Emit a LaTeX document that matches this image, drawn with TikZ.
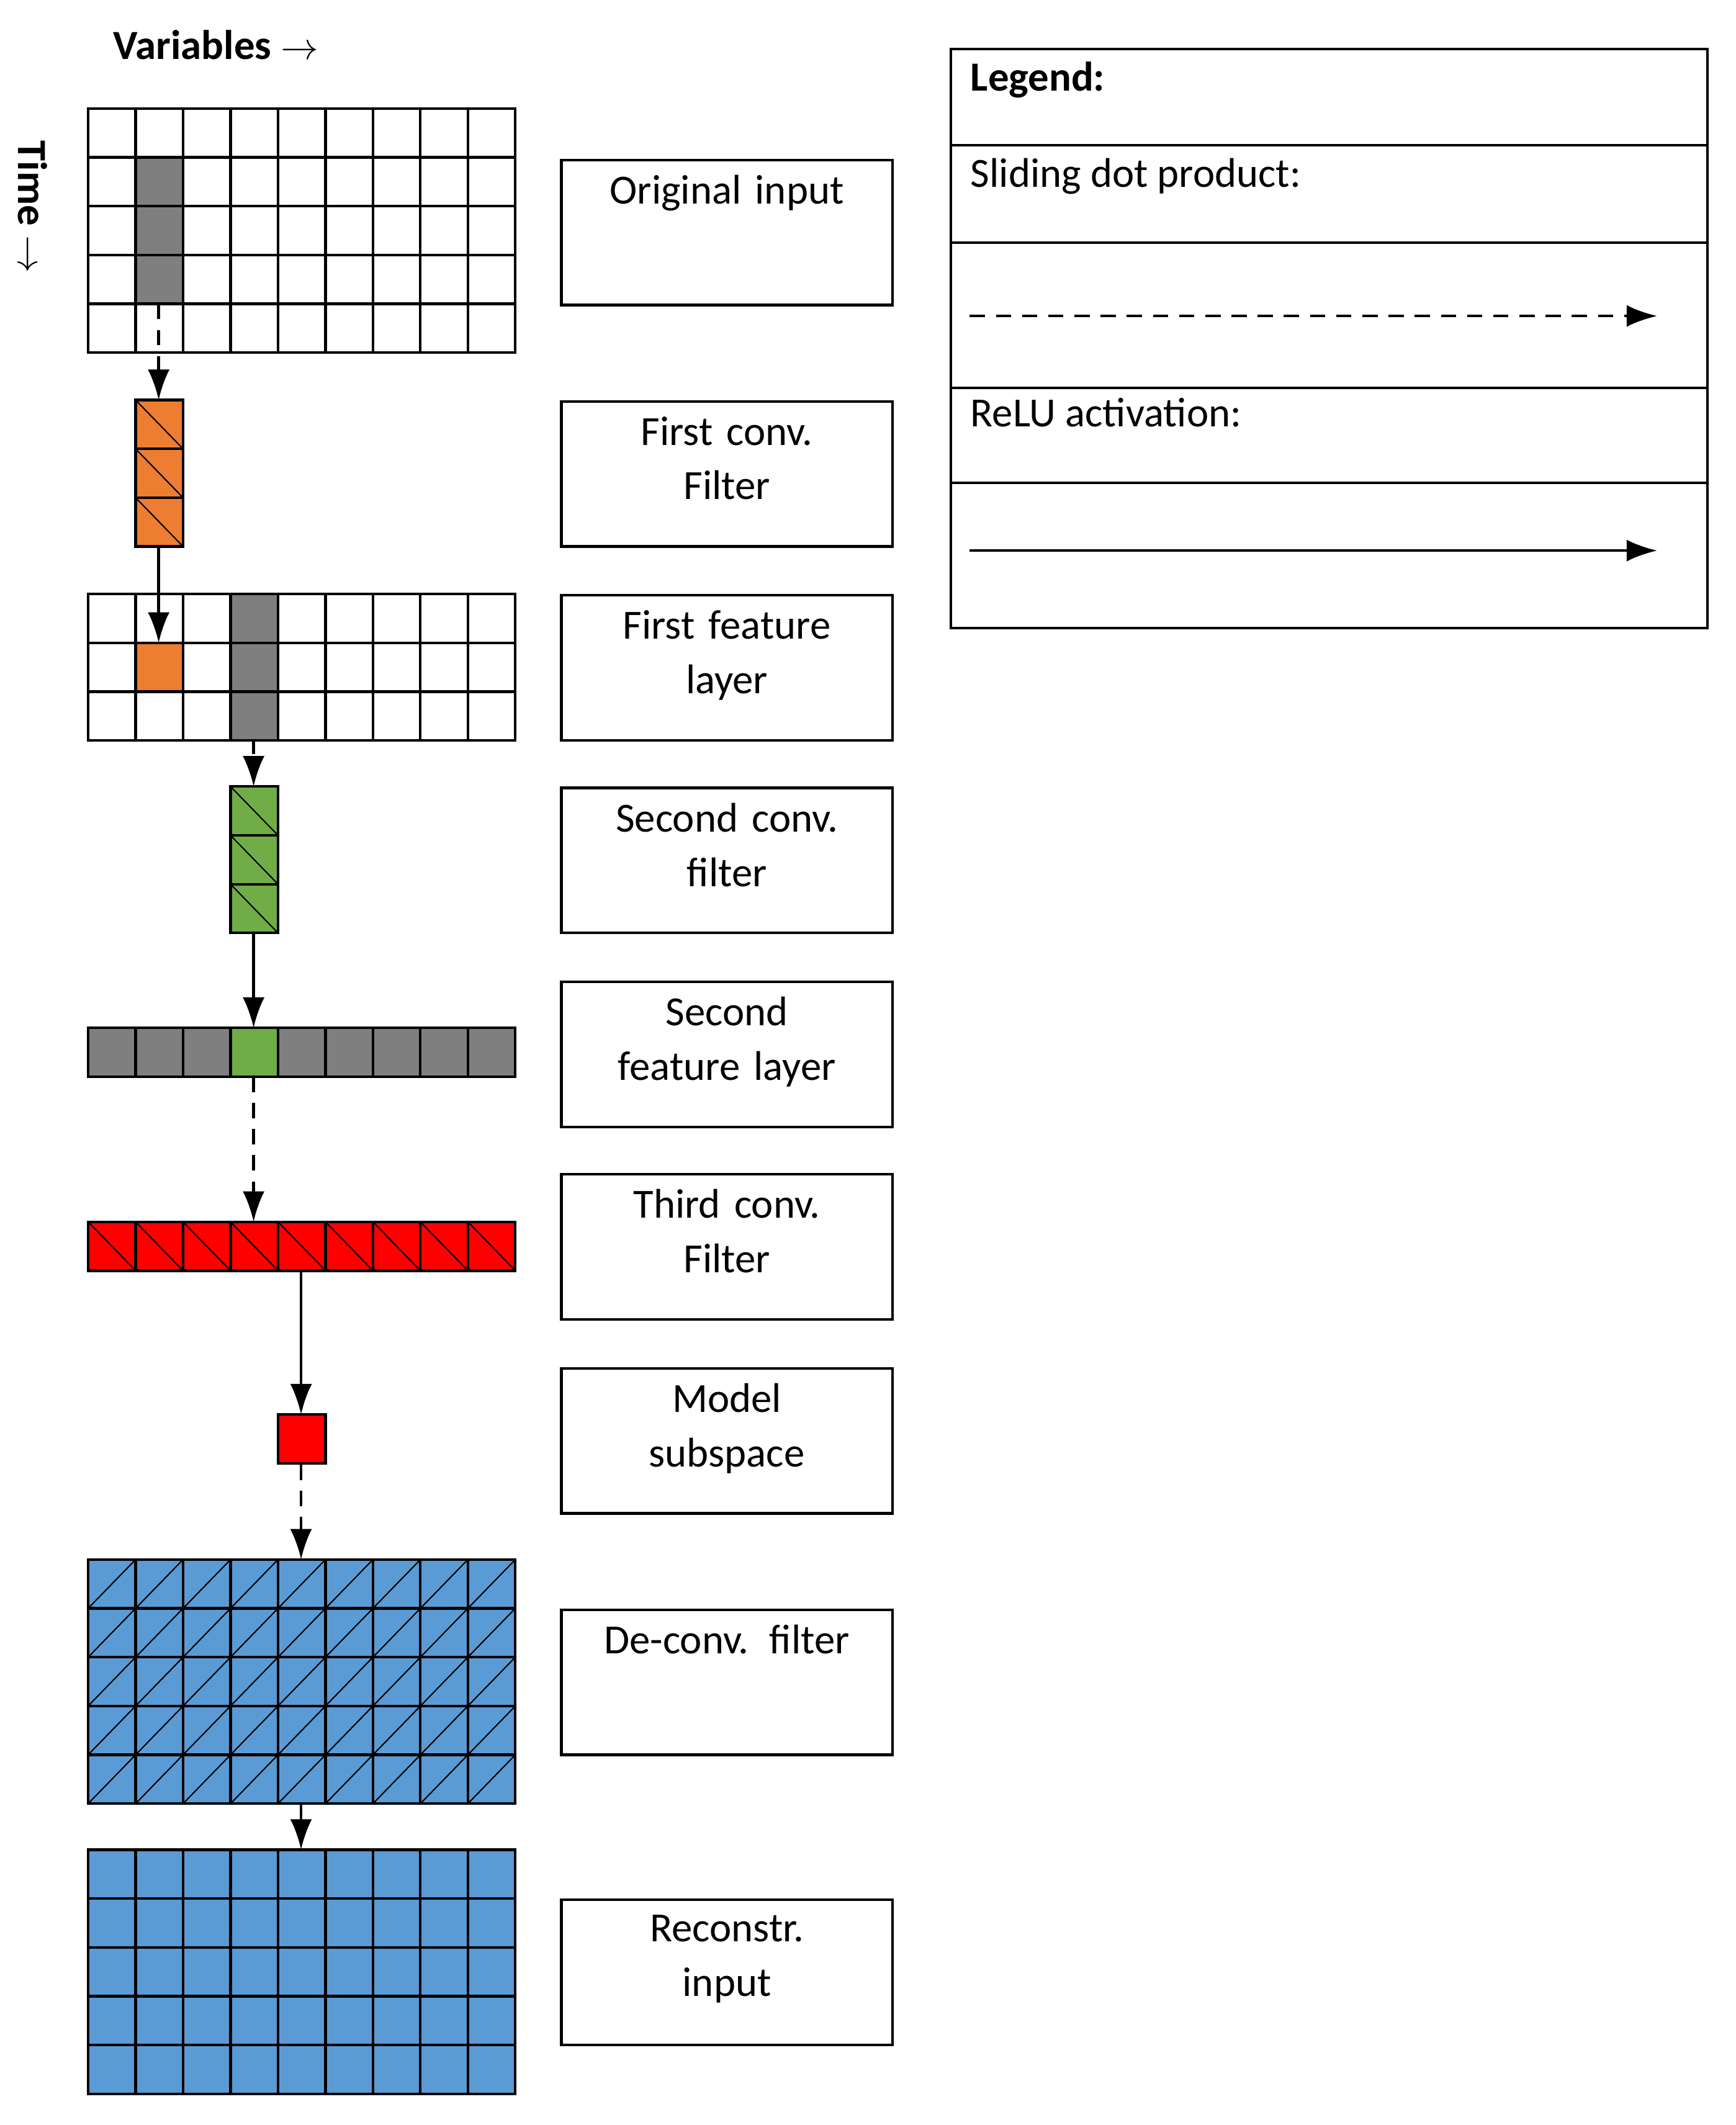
\documentclass[tikz,border=0pt]{standalone}
\usepackage{fontspec}
\setmainfont{Carlito}
\usetikzlibrary{arrows.meta}
\definecolor{cgrey}{HTML}{7F7F7F}
\definecolor{corange}{HTML}{ED7D31}
\definecolor{cgreen}{HTML}{70AD47}
\definecolor{cred}{HTML}{FF0000}
\definecolor{cblue}{HTML}{5B9BD5}
% one block of cells: x0, y0, columns, rows, fill
\newcommand{\cellblock}[5]{%
  \foreach \i in {1,...,#3}{\foreach \j in {1,...,#4}{%
    \draw[fill=#5,line width=1.2pt] ({#1+(\i-1)*35},{#2+(\j-1)*36}) rectangle ++(35,36);}}}
% down-right diagonals
\newcommand{\diagdown}[4]{%
  \foreach \i in {1,...,#3}{\foreach \j in {1,...,#4}{%
    \draw[line width=0.6pt] ({#1+(\i-1)*35},{#2+(\j-1)*36}) -- ++(35,36);}}}
% up-right diagonals
\newcommand{\diagup}[4]{%
  \foreach \i in {1,...,#3}{\foreach \j in {1,...,#4}{%
    \draw[line width=0.6pt] ({#1+(\i-1)*35},{#2+\j*36}) -- ++(35,-36);}}}
\begin{document}
\begin{tikzpicture}[x=0.02185cm,y=-0.02185cm,
  every node/.style={font=\fontsize{19}{25}\selectfont},
  label box/.style={draw,line width=1.2pt,minimum width=244*0.02185cm,minimum height=107*0.02185cm,anchor=north west,inner sep=0pt},
  box text/.style={align=center,anchor=north,text width=230*0.02185cm},
  relu/.style={-{Latex[length=14pt,width=10pt]},line width=1.3pt},
  slide/.style={relu,dashed,dash pattern=on 7pt off 5pt}]
\useasboundingbox (0,0) rectangle (1280,1567);

% grids
\cellblock{65}{80}{9}{5}{white}
\fill[cgrey] (100,116) rectangle (135,224);
\cellblock{65}{80}{9}{5}{none}
\cellblock{100}{295}{1}{3}{corange}\diagdown{100}{295}{1}{3}
\cellblock{65}{438}{9}{3}{white}
\fill[corange] (100,474) rectangle (135,510);
\fill[cgrey] (170,438) rectangle (205,545);
\cellblock{65}{438}{9}{3}{none}
\cellblock{170}{580}{1}{3}{cgreen}\diagdown{170}{580}{1}{3}
\cellblock{65}{758}{9}{1}{cgrey}
\cellblock{170}{758}{1}{1}{cgreen}
\cellblock{65}{901}{9}{1}{cred}\diagdown{65}{901}{9}{1}
\cellblock{205}{1043}{1}{1}{cred}
\cellblock{65}{1150}{9}{5}{cblue}\diagup{65}{1150}{9}{5}
\cellblock{65}{1364}{9}{5}{cblue}

% arrow ends
\coordinate (in) at (117,224);   \coordinate (f1) at (117,295);
\coordinate (f1b) at (117,403);  \coordinate (l1) at (117,474);
\coordinate (l1b) at (187,545);  \coordinate (f2) at (187,580);
\coordinate (f2b) at (187,688);  \coordinate (l2) at (187,758);
\coordinate (l2b) at (187,794);  \coordinate (f3) at (187,901);
\coordinate (f3b) at (222,937);  \coordinate (ms) at (222,1043);
\coordinate (msb) at (222,1080); \coordinate (dc) at (222,1150);
\coordinate (dcb) at (222,1330); \coordinate (rc) at (222,1364);
\draw[slide] (in) -- (f1);
\draw[relu] (f1b) -- (l1);
\draw[slide] (l1b) -- (f2);
\draw[relu] (f2b) -- (l2);
\draw[slide] (l2b) -- (f3);
\draw[relu] (f3b) -- (ms);
\draw[slide] (msb) -- (dc);
\draw[relu] (dcb) -- (rc);

% axis labels
\node[font=\fontsize{19}{25}\selectfont\bfseries,anchor=west] (vars) at (78,33) {Variables $\rightarrow$};
\node[font=\fontsize{19}{25}\selectfont\bfseries,rotate=-90,anchor=west] (time) at (24,98) {Time $\rightarrow$};

% label boxes
\foreach \n/\y/\t in {b1/117/Original input, b2/295/First conv.\\Filter, b3/438/First feature\\layer,
  b4/580/Second conv.\\filter, b5/723/Second\\feature layer, b6/865/Third conv.\\Filter,
  b7/1008/Model\\subspace, b8/1186/De-conv. filter, b9/1400/Reconstr.\\input}{
  \node[label box] (\n) at (413,\y) {};
  \node[box text] at ([yshift=-4pt]\n.north) {\t};
}

% legend
\draw[line width=1.2pt] (701,36) rectangle (1259,463);
\foreach \y in {107,179,286,356} \draw[line width=1.2pt] (701,\y) -- (1259,\y);
\node[anchor=north west,font=\fontsize{19}{25}\selectfont\bfseries] (leg) at (710,40) {Legend:};
\node[anchor=north west] (lsl) at (710,111) {Sliding dot product:};
\node[anchor=north west] (lre) at (710,288) {ReLU activation:};
\coordinate (s1) at (715,233); \coordinate (s2) at (1222,233);
\coordinate (r1) at (715,406); \coordinate (r2) at (1222,406);
\draw[slide] (s1) -- (s2);
\draw[relu] (r1) -- (r2);
\end{tikzpicture}
\end{document}
